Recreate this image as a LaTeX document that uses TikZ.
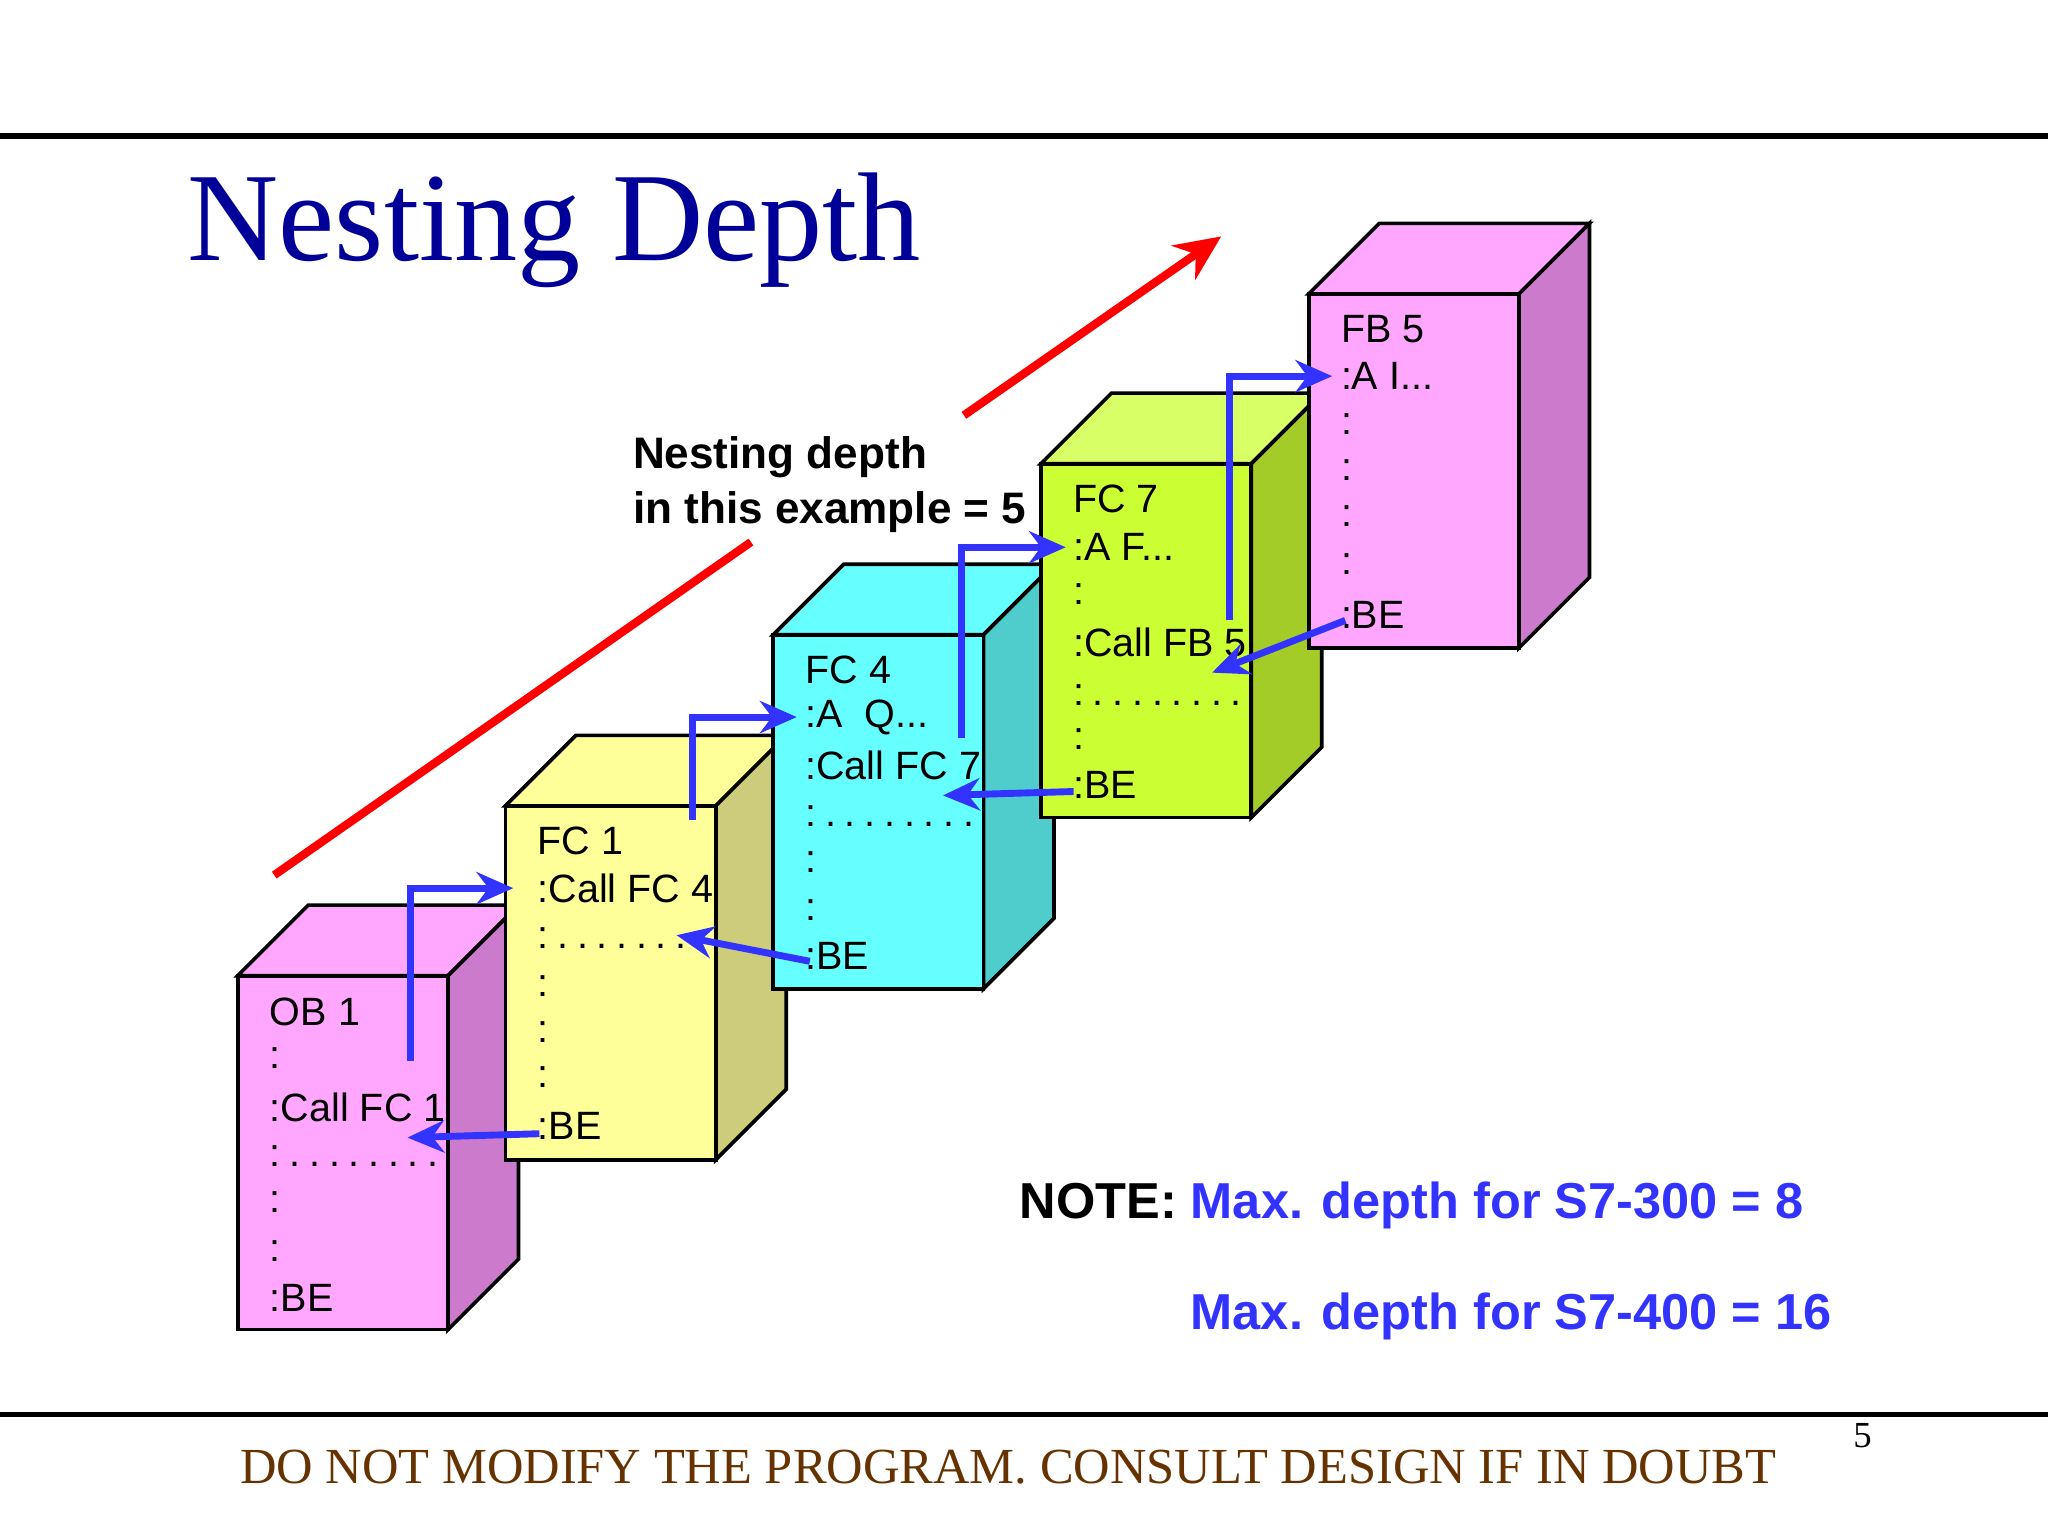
\documentclass[tikz,border=0pt]{standalone}
\usepackage{fontspec}
\setmainfont{Liberation Serif}
\setsansfont{Liberation Sans}
\usetikzlibrary{arrows.meta}
\definecolor{pinkF}{HTML}{FFA6FF}\definecolor{pinkS}{HTML}{CC7ACC}
\definecolor{yelF}{HTML}{FFFF99}\definecolor{yelS}{HTML}{CCCC7A}
\definecolor{cyaF}{HTML}{66FFFF}\definecolor{cyaS}{HTML}{4FCCCC}
\definecolor{grnF}{HTML}{CCFF33}\definecolor{grnS}{HTML}{A3CC29}\definecolor{grnT}{HTML}{D9FF66}
\definecolor{callblue}{HTML}{3333FF}\definecolor{titleblue}{HTML}{000099}
\definecolor{footbrown}{HTML}{663300}
\newcommand\cubebox[5]{% x y front side top
  \fill[#5,draw=black,line width=0.8pt] (#1,#2) -- ++(54,-54) -- ++(161,0) -- ++(-54,54) -- cycle;
  \fill[#4,draw=black,line width=0.8pt] (#1+161,#2) -- ++(54,-54) -- ++(0,271) -- ++(-54,54) -- cycle;
  \fill[#3,draw=black,line width=0.8pt] (#1,#2) rectangle ++(161,271);
}
\newcommand\dotrow[1]{:\foreach \i in {1,...,#1}{\hspace{1.9pt}.}}
\tikzset{bt/.style={font=\sffamily\fontsize{8.6}{9}\selectfont,anchor=west,inner sep=0pt},
 call/.style={callblue,line width=1.5pt,-{Stealth[length=8pt,width=7pt]}},
 note/.style={font=\sffamily\bfseries\fontsize{11}{12}\selectfont,anchor=west,inner sep=0pt}}
\begin{document}
\begin{tikzpicture}[x=0.01cm,y=-0.01cm]
\useasboundingbox (0,0) rectangle (1568,1176);
\fill[white] (0,0) rectangle (1568,1176);
\draw[line width=1.2pt] (0,104) -- (1568,104);
\draw[line width=1.2pt] (0,1083) -- (1568,1083);
\node[anchor=west,inner sep=0pt,text=titleblue,font=\fontsize{27.5}{30}\selectfont] (title) at (143,176) {Nesting Depth};
\node[inner sep=0pt,text=footbrown,font=\fontsize{11}{12}\selectfont] (foot) at (772,1123) {DO NOT MODIFY THE PROGRAM. CONSULT DESIGN IF IN DOUBT};
\node[inner sep=0pt,font=\fontsize{8}{9}\selectfont] (pg) at (1426,1099) {5};
% red line
\coordinate (r1) at (210,670); \coordinate (r2) at (575,415);
\coordinate (r3) at (738,318); \coordinate (r4) at (935,181);
\draw[red,line width=1.8pt] (r1) -- (r2);
\draw[red,line width=1.8pt,-{Stealth[length=10pt,width=9pt]}] (r3) -- (r4);
\node[bt,font=\sffamily\bfseries\fontsize{9.6}{10}\selectfont] (nd1) at (484,350) {Nesting depth};
\node[bt,font=\sffamily\bfseries\fontsize{9.6}{10}\selectfont] (nd2) at (484,392) {in this example = 5};
% cubes
\cubebox{182}{747}{pinkF}{pinkS}{pinkF}
\cubebox{387}{617}{yelF}{yelS}{yelF}
\cubebox{592}{486}{cyaF}{cyaS}{cyaF}
\cubebox{797}{355}{grnF}{grnS}{grnT}
\cubebox{1002}{225}{pinkF}{pinkS}{pinkF}
% OB1
\node[bt] (o1) at (206,775) {OB 1};
\node[bt] (o2) at (206,810) {:};
\node[bt] (o3) at (206,848) {:Call FC 1};
\node[bt] (o4) at (206,885) {\dotrow{8}};
\node[bt] (o5) at (206,920) {:};
\node[bt] (o6) at (206,958) {:};
\node[bt] (o7) at (206,994) {:BE};
% FC1
\node[bt] (a1) at (411,644) {FC 1};
\node[bt] (a2) at (411,680) {:Call FC 4};
\node[bt] (a3) at (411,718) {\dotrow{7}};
\node[bt] (a4) at (411,755) {:};
\node[bt] (a5) at (411,790) {:};
\node[bt] (a6) at (411,825) {:};
\node[bt] (a7) at (411,862) {:BE};
% FC4
\node[bt] (b1) at (616,513) {FC 4};
\node[bt] (b2) at (616,549) {:A\ \ Q...};
\node[bt] (b3) at (616,586) {:Call FC 7};
\node[bt] (b4) at (616,625) {\dotrow{8}};
\node[bt] (b5) at (616,660) {:};
\node[bt] (b6) at (616,697) {:};
\node[bt] (b7) at (616,732) {:BE};
% FC7
\node[bt] (c1) at (821,382) {FC 7};
\node[bt] (c2) at (821,419) {:A F...};
\node[bt] (c3) at (821,455) {:};
\node[bt] (c4) at (821,492) {:Call FB 5};
\node[bt] (c5) at (821,532) {\dotrow{8}};
\node[bt] (c6) at (821,566) {:};
\node[bt] (c7) at (821,601) {:BE};
% FB5
\node[bt] (d1) at (1026,252) {FB 5};
\node[bt] (d2) at (1026,288) {:A I...};
\node[bt] (d3) at (1026,325) {:};
\node[bt] (d4) at (1026,360) {:};
\node[bt] (d5) at (1026,395) {:};
\node[bt] (d6) at (1026,432) {:};
\node[bt] (d7) at (1026,471) {:BE};
% calls
\coordinate (s1) at (314,812); \coordinate (t1) at (393,680);
\draw[call] (s1) |- (t1);
\coordinate (e1) at (413,868); \coordinate (f1) at (312,871);
\draw[call] (e1) -- (f1);
\coordinate (s2) at (530,628); \coordinate (t2) at (610,549);
\draw[call] (s2) |- (t2);
\coordinate (e2) at (620,736); \coordinate (f2) at (518,716);
\draw[call] (e2) -- (f2);
\coordinate (s3) at (736,565); \coordinate (t3) at (816,419);
\draw[call] (s3) |- (t3);
\coordinate (e3) at (822,606); \coordinate (f3) at (722,609);
\draw[call] (e3) -- (f3);
\coordinate (s4) at (941,475); \coordinate (t4) at (1020,288);
\draw[call] (s4) |- (t4);
\coordinate (e4) at (1030,475); \coordinate (f4) at (928,515);
\draw[call] (e4) -- (f4);
% note
\node[note] (n1) at (780,923) {NOTE: \textcolor{callblue}{Max. depth for S7-300 = 8}};
\node[note,text=callblue] (n2) at (911,1008) {Max. depth for S7-400 = 16};
\end{tikzpicture}
\end{document}
